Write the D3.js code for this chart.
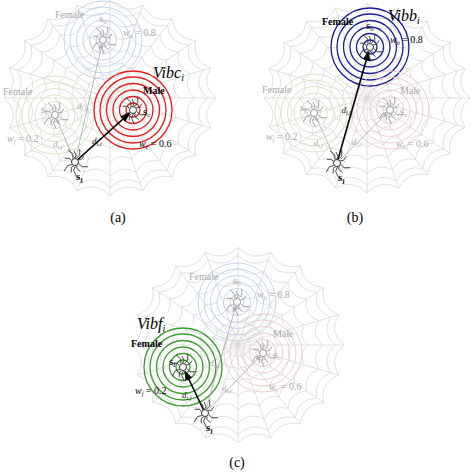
<!DOCTYPE html>
<html><head><meta charset="utf-8">
<script src="https://cdn.jsdelivr.net/npm/d3@7"></script>
<style>body{margin:0;background:#fff}svg text{font-family:'Liberation Serif','DejaVu Serif',serif}</style>
</head><body><div id="chart"></div>
<script>
// panels: web centre, radius, caption
const panels = [
  {id:'a', cx:110, cy:98, r:106, cap:'(a)', capX:118, capY:222, hot:'m', vib:'Vibc'},
  {id:'b', cx:367, cy:98, r:103, cap:'(b)', capX:355, capY:222, hot:'b', vib:'Vibb'},
  {id:'c', cx:238, cy:345, r:106, cap:'(c)', capX:237, capY:467, hot:'f', vib:'Vibf'}
];
// spider positions per panel (absolute px)
const spiders = {
  a: {b:[103,40], f:[55,115], m:[133,110], j:[75,162]},
  b: {b:[370,47], f:[314,113], m:[390,110], j:[337,163]},
  c: {b:[237,302], f:[183,367], m:[263,353], j:[205,413]}
};
const sexes   = {b:'Female', f:'Female', m:'Male'};
const weights = {b:'0.8', f:'0.2', m:'0.6'};
const subs    = {b:'b', f:'f', m:'c'};
const faded   = {b:'#bcd0ea', f:'#d8dec4', m:'#ecc8c8'};
const strong  = {b:'#1c1c96', f:'#3a9e2c', m:'#e01e1e'};
const ringRadii = [7, 13.5, 20, 26.5, 33, 39];
const webRings = [0.12, 0.25, 0.38, 0.52, 0.66, 0.8, 0.92, 1.0];
const spokes = 20;
const legAngles = [-160,-120,-95,-70,-35,20,60,85,110,140];

const W = 474, H = 476;
const svg = d3.select('#chart').append('svg').attr('width', W).attr('height', H)
  .attr('font-family', "'Liberation Serif', 'DejaVu Serif', serif");
const defs = svg.append('defs');
defs.append('marker').attr('id','arr').attr('viewBox','0 0 10 10').attr('refX',9).attr('refY',5)
  .attr('markerWidth',6).attr('markerHeight',6).attr('orient','auto')
  .append('path').attr('d','M0,1L10,5L0,9z').attr('fill','#000');
defs.append('marker').attr('id','arrg').attr('viewBox','0 0 10 10').attr('refX',9).attr('refY',5)
  .attr('markerWidth',5).attr('markerHeight',5).attr('orient','auto')
  .append('path').attr('d','M0,1L10,5L0,9z').attr('fill','#aaa');

panels.forEach(p => {
  const g = svg.append('g').attr('transform', `translate(${p.cx},${p.cy})`);
  const rad = d3.scaleLinear().domain([0,1]).range([0,p.r]);
  const ang = d3.scaleLinear().domain([0,spokes]).range([0,2*Math.PI]);
  // spokes
  d3.range(spokes).forEach(k => {
    const a = ang(k);
    g.append('line').attr('x1',0).attr('y1',0)
      .attr('x2',rad(1)*Math.cos(a)).attr('y2',rad(1)*Math.sin(a)*0.92)
      .attr('stroke','#d8d8d8').attr('stroke-width',0.8);
  });
  // sagging rings
  webRings.forEach(t => {
    let d = '';
    d3.range(spokes).forEach(k => {
      const a0 = ang(k), a1 = ang(k+1), am = (a0+a1)/2, rr = rad(t), rc = rr*0.86;
      if (k===0) d += `M${rr*Math.cos(a0)},${rr*Math.sin(a0)*0.92}`;
      d += `Q${rc*Math.cos(am)},${rc*Math.sin(am)*0.92} ${rr*Math.cos(a1)},${rr*Math.sin(a1)*0.92}`;
    });
    g.append('path').attr('d',d).attr('fill','none').attr('stroke','#d8d8d8').attr('stroke-width',0.8);
  });

  const S = spiders[p.id];
  const top = svg.append('g');
  // vibration rings
  ['b','f','m'].forEach(k => {
    const hot = k===p.hot;
    ringRadii.forEach(r => top.append('circle').attr('cx',S[k][0]).attr('cy',S[k][1]).attr('r',r)
      .attr('fill','none').attr('stroke', hot?strong[k]:faded[k]).attr('stroke-width', hot?1.3:0.9));
  });
  // distance lines
  ['b','f','m'].forEach(k => {
    const hot = k===p.hot;
    const [x0,y0] = S.j, [x1,y1] = S[k];
    const dx = x1-x0, dy = y1-y0, L = Math.hypot(dx,dy);
    top.append('line').attr('x1',x0).attr('y1',y0)
      .attr('x2',x1-dx/L*5).attr('y2',y1-dy/L*5)
      .attr('stroke', hot?'#000':'#aaa').attr('stroke-width', hot?1.6:0.8)
      .attr('marker-end', hot?'url(#arr)':'url(#arrg)');
    top.append('text').attr('x',(x0+x1)/2-12).attr('y',(y0+y1)/2+8)
      .attr('font-size',9).attr('font-style','italic').attr('fill', hot?'#222':'#aaa')
      .html(`d<tspan font-size="6" dy="2">i,${subs[k]}</tspan>`);
  });
  // spiders
  const drawSpider = (x,y,col) => {
    legAngles.forEach((a,i) => {
      const t = a*Math.PI/180, L = i%2 ? 14 : 11;
      top.append('polyline').attr('points',
        `${x+4*Math.cos(t)},${y+4*Math.sin(t)} ${x+L*0.6*Math.cos(t+0.25)},${y+L*0.6*Math.sin(t+0.25)} ${x+L*Math.cos(t)},${y+L*Math.sin(t)}`)
        .attr('fill','none').attr('stroke',col).attr('stroke-width',0.9);
    });
    top.append('circle').attr('cx',x).attr('cy',y).attr('r',3.5).attr('fill','#fff').attr('stroke',col);
  };
  ['b','f','m'].forEach(k => drawSpider(S[k][0],S[k][1], k===p.hot?'#333':'#999'));
  drawSpider(S.j[0], S.j[1], '#333');
  top.append('text').attr('x',S.j[0]+1).attr('y',S.j[1]+18).attr('font-size',11).attr('font-weight','bold')
    .html('s<tspan font-size="7" dy="2">j</tspan>');

  // labels
  ['b','f','m'].forEach(k => {
    const hot = k===p.hot, [x,y] = S[k], col = hot?'#000':'#aaa';
    const lx = k==='f' ? x-52 : (k==='b' ? x-48 : x+10);
    const ly = k==='f' ? y-20 : (k==='b' ? y-22 : y-16);
    top.append('text').attr('x', lx).attr('y', ly).attr('font-size', 10)
      .attr('font-weight', hot?'bold':'normal').attr('fill', col).text(sexes[k]);
    top.append('text').attr('x', k==='m'? x+10 : (k==='f'? x-14 : x-4)).attr('y', k==='m'? y+5 : (k==='f'? y-2 : y-18))
      .attr('font-size',11).attr('fill',col).html(`s<tspan font-size="7" dy="2">${subs[k]}</tspan>`);
    top.append('text').attr('x', k==='f'? x-48 : (k==='b'? x+20 : x+6)).attr('y', k==='f'? y+27 : (k==='b'? y-4 : y+37))
      .attr('font-size',10).attr('fill',col)
      .html(`<tspan font-style="italic">w</tspan><tspan font-size="6" dy="2" font-style="italic">${subs[k]}</tspan><tspan dy="-2"> = ${weights[k]}</tspan>`);
  });
  // Vib label
  const hs = S[p.hot];
  const vx = p.hot==='f' ? hs[0]-46 : (p.hot==='b' ? hs[0]+18 : hs[0]+20);
  const vy = p.hot==='f' ? hs[1]-38 : (p.hot==='b' ? hs[1]-26 : hs[1]-32);
  top.append('text').attr('x',vx).attr('y',vy).attr('font-size',16).attr('font-style','italic')
    .html(`${p.vib}<tspan font-size="10" dy="3">i</tspan>`);
  svg.append('text').attr('x',p.capX).attr('y',p.capY).attr('text-anchor','middle')
    .attr('font-size',14).text(p.cap);
});
</script></body></html>
